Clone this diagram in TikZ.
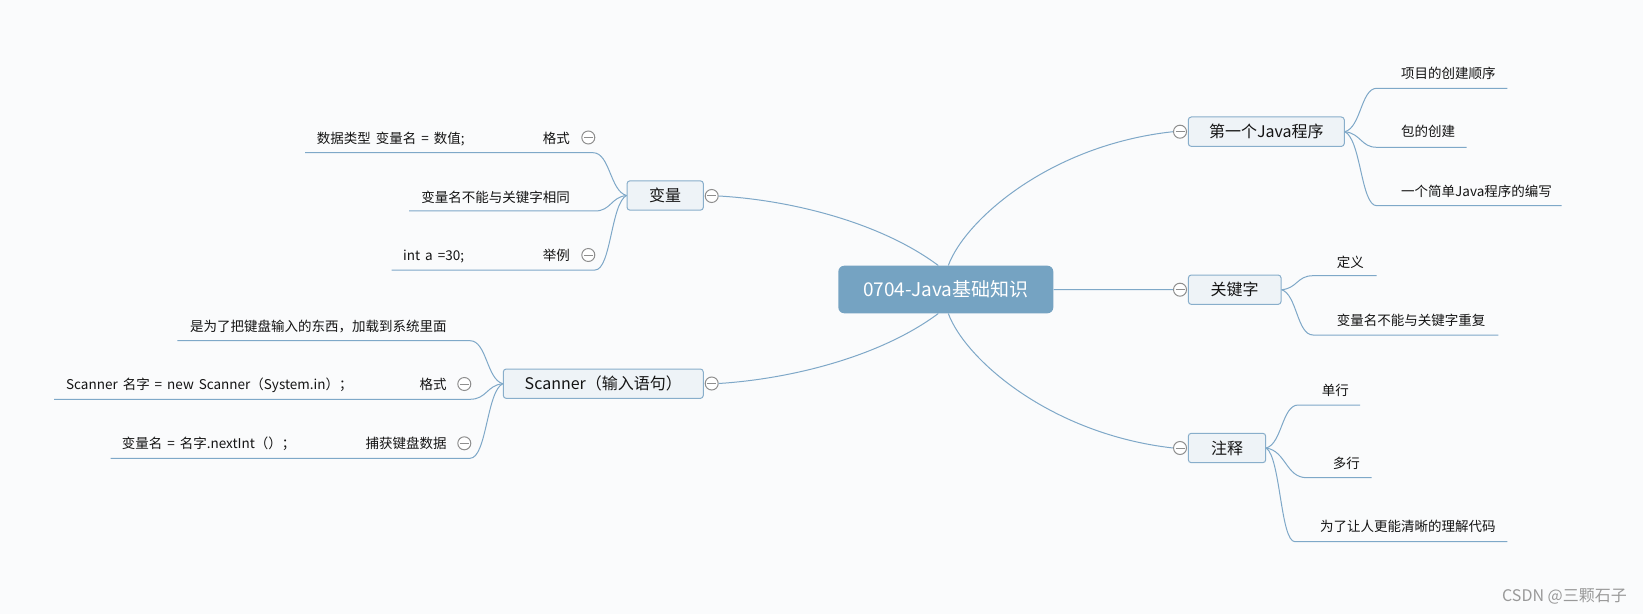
\documentclass[tikz,border=0pt]{standalone}
\usepackage{fontspec}
\setmainfont{Noto Sans CJK SC}
\usetikzlibrary{calc}

\definecolor{bgcol}{HTML}{FAFBFC}
\definecolor{conncol}{HTML}{7EA8C8}
\definecolor{subfill}{HTML}{EEF3F7}
\definecolor{subdraw}{HTML}{88AECB}
\definecolor{centfill}{HTML}{75A3C2}
\definecolor{circcol}{HTML}{8E8E8E}
\definecolor{txtcol}{HTML}{141414}
\definecolor{wmcol}{HTML}{999999}

\newcommand\fchild{\fontsize{13.5bp}{16bp}\selectfont\spaceskip=0.37em plus 0.1em}
\newcommand\fmaintopic{\fontsize{16bp}{19bp}\selectfont}
\newcommand\fcentral{\fontsize{19bp}{22bp}\selectfont}
\newcommand\fwmark{\fontsize{16bp}{19bp}\selectfont}

\begin{document}
\begin{tikzpicture}[x=1bp,y=-1bp,
  conn/.style={draw=conncol, line width=1bp},
  central/.style={rectangle, rounded corners=6bp, fill=centfill, draw=none, text=white,
    font=\fcentral, minimum width=215bp, minimum height=47.6bp, inner sep=0,
    text height=16.7bp, text depth=2.3bp},
  maintopic/.style={rectangle, rounded corners=3bp, fill=subfill, draw=subdraw, line width=1bp,
    font=\fmaintopic, text=txtcol, inner sep=0, minimum height=29.4bp,
    text height=14.1bp, text depth=1.9bp},
  leaf/.style={inner sep=0, font=\fchild, text=txtcol, text height=11.9bp, text depth=1.6bp},
  cbtn/.style={circle, draw=circcol, fill=white, line width=1bp, minimum size=13bp, inner sep=0,
    path picture={\draw[circcol, line width=1bp] ([xshift=-4.5bp]path picture bounding box.center) -- ([xshift=4.5bp]path picture bounding box.center);}},
]
\useasboundingbox (0,0) rectangle (1643,614);
\fill[bgcol] (0,0) rectangle (1643,614);

% central topic
\node[central] (cen) at (945.8,289.5) {0704-Java基础知识};

% main topics
\node[maintopic, minimum width=156bp] (b1) at (1266.3,131.7) {第一个Java程序};
\node[maintopic, minimum width=92.7bp] (b2) at (1234.7,289.7) {关键字};
\node[maintopic, minimum width=77.4bp] (b3) at (1227,448) {注释};
\node[maintopic, minimum width=76.3bp] (b4) at (665.2,195.5) {变量};
\node[maintopic, minimum width=200bp] (b5) at (603.3,383.7) {Scanner（输入语句）};

% collapse buttons
\node[cbtn] (k1) at (1180,131.7) {};
\node[cbtn] (k2) at (1180,289.7) {};
\node[cbtn] (k3) at (1180,448) {};
\node[cbtn] (k4) at (711.7,196) {};
\node[cbtn] (k5) at (711.7,383.5) {};

% central connectors
\coordinate (ctl) at ($(cen.north)+(-7.5,0)$);
\coordinate (ctr) at ($(cen.north)+(2.5,0)$);
\coordinate (cbl) at ($(cen.south)+(-7.5,0)$);
\coordinate (cbr) at ($(cen.south)+(2.5,0)$);
\draw[conn] (k4.east) .. controls (790,200) and (880,222) .. (ctl);
\draw[conn] (ctr) .. controls (965,220) and (1050,145) .. (k1.west);
\draw[conn] (cen.east) -- (k2.west);
\draw[conn] (cbr) .. controls (965,359) and (1050,434) .. (k3.west);
\draw[conn] (k5.east) .. controls (790,379) and (880,357) .. (cbl);

% ---- right: 第一个Java程序
\coordinate (u1s) at (1376.7,88.3);  \coordinate (u1e) at (1507.3,88.3);
\coordinate (u2s) at (1376.7,147.3); \coordinate (u2e) at (1466.7,147.3);
\coordinate (u3s) at (1376.7,205.7); \coordinate (u3e) at (1561.7,205.7);
\draw[conn] (b1.east) .. controls (1361,127.6) and (1361,88.3) .. (u1s) -- (u1e);
\draw[conn] (b1.east) .. controls (1361,133.5) and (1361,147.3) .. (u2s) -- (u2e);
\draw[conn] (b1.east) .. controls (1361,139.4) and (1361,205.7) .. (u3s) -- (u3e);
\node[leaf, anchor=west] (t11) at (1401,73.3) {项目的创建顺序};
\node[leaf, anchor=west] (t12) at (1401,131.7) {包的创建};
\node[leaf, anchor=west] (t13) at (1401,191.7) {一个简单Java程序的编写};

% ---- right: 关键字
\coordinate (u4s) at (1313,275.7); \coordinate (u4e) at (1376.7,275.7);
\coordinate (u5s) at (1313,335);   \coordinate (u5e) at (1498.3,335);
\draw[conn] (b2.east) .. controls (1297,288.6) and (1297,275.7) .. (u4s) -- (u4e);
\draw[conn] (b2.east) .. controls (1297,294.5) and (1297,335) .. (u5s) -- (u5e);
\node[leaf, anchor=west] (t21) at (1336.7,262.7) {定义};
\node[leaf, anchor=west] (t22) at (1336.7,320) {变量名不能与关键字重复};

% ---- right: 注释
\coordinate (u6s) at (1298.3,405);   \coordinate (u6e) at (1360,405);
\coordinate (u7s) at (1306.7,477.7); \coordinate (u7e) at (1371.7,477.7);
\coordinate (u8s) at (1295,541.7);   \coordinate (u8e) at (1507.3,541.7);
\draw[conn] (b3.east) .. controls (1282,443.7) and (1282,405) .. (u6s) -- (u6e);
\draw[conn] (b3.east) .. controls (1286,451) and (1286,477.7) .. (u7s) -- (u7e);
\draw[conn] (b3.east) .. controls (1280.5,457.4) and (1280.5,541.7) .. (u8s) -- (u8e);
\node[leaf, anchor=west] (t31) at (1321.7,390) {单行};
\node[leaf, anchor=west] (t32) at (1332.7,463.3) {多行};
\node[leaf, anchor=west] (t33) at (1320,526) {为了让人更能清晰的理解代码};

% ---- left: 变量
\coordinate (v1s) at (593,152.7); \coordinate (v1e) at (305,152.7);
\coordinate (v2s) at (595,211);   \coordinate (v2e) at (409,211);
\coordinate (v3s) at (595,270);   \coordinate (v3e) at (391.7,270);
\draw[conn] (b4.west) .. controls (610,191.2) and (610,152.7) .. (v1s) -- (v1e);
\draw[conn] (b4.west) .. controls (611,197) and (611,211) .. (v2s) -- (v2e);
\draw[conn] (b4.west) .. controls (611,203) and (611,270) .. (v3s) -- (v3e);
\node[leaf, anchor=east] (t41) at (570,138) {格式};
\node[cbtn] (k6) at (588.3,137.5) {};
\node[leaf, anchor=west] (t41c) at (316.7,138) {数据类型 变量名 = 数值;};
\node[leaf, anchor=east] (t42) at (570,197.7) {变量名不能与关键字相同};
\node[leaf, anchor=east] (t43) at (570,255) {举例};
\node[cbtn] (k7) at (588.3,255) {};
\node[leaf, anchor=west] (t43c) at (403,255) {int a =30;};

% ---- left: Scanner
\coordinate (w1s) at (470,340.7); \coordinate (w1e) at (177.3,340.7);
\coordinate (w2s) at (470,399.3); \coordinate (w2e) at (54,399.3);
\coordinate (w3s) at (470,458.3); \coordinate (w3e) at (110.7,458.3);
\draw[conn] (b5.west) .. controls (486.7,379.4) and (486.7,340.7) .. (w1s) -- (w1e);
\draw[conn] (b5.west) .. controls (486.7,385.3) and (486.7,399.3) .. (w2s) -- (w2e);
\draw[conn] (b5.west) .. controls (486.7,391) and (486.7,458.3) .. (w3s) -- (w3e);
\node[leaf, anchor=east] (t51) at (446.7,326) {是为了把键盘输入的东西，加载到系统里面};
\node[leaf, anchor=east] (t52) at (446.7,384) {格式};
\node[cbtn] (k8) at (464.3,384) {};
\node[leaf, anchor=west] (t52c) at (66,384) {Scanner 名字 = new Scanner（System.in）；};
\node[leaf, anchor=east] (t53) at (446.7,443.3) {捕获键盘数据};
\node[cbtn] (k9) at (464.3,443.3) {};
\node[leaf, anchor=west] (t53c) at (121.7,443.3) {变量名 = 名字.nextInt（）；};

% watermark
\node[inner sep=0, anchor=east, font=\fwmark, text=wmcol] (wm) at (1627,596) {CSDN @三颗石子};
\end{tikzpicture}
\end{document}
